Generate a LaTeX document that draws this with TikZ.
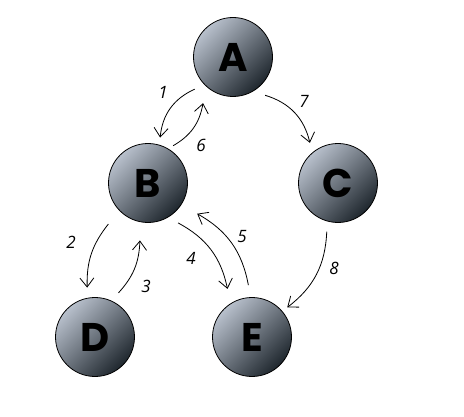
\documentclass[tikz,border=0pt]{standalone}
\usepackage{fontspec}
\setmainfont{Open Sans}
\newfontfamily\letterfont{Poppins}
\usetikzlibrary{arrows.meta,calc}
\definecolor{ballLight}{HTML}{B8C0CC}
\definecolor{ballDark}{HTML}{1F272E}
\tikzset{
  ball/.style={circle, draw=black, line width=0.8pt, minimum size=79pt, inner sep=0pt,
    left color=ballLight, right color=ballDark, shading angle=45,
    font=\letterfont\bfseries\fontsize{40}{40}\selectfont},
  edge/.style={line width=0.8pt, -{Straight Barb[length=9pt,width=14pt,line width=0.8pt]}},
  lbl/.style={font=\fontsize{17}{17}\selectfont\itshape, inner sep=0pt}
}
\begin{document}
\begin{tikzpicture}[x=1pt,y=1pt]
\useasboundingbox (0,0) rectangle (464,416);
\node[ball] (A) at (233,359) {A};
\node[ball] (B) at (148,233) {B};
\node[ball] (C) at (338,233) {C};
\node[ball] (D) at (95,79) {D};
\node[ball] (E) at (252,79) {E};
% edges
\draw[edge] ($(A)+(220:50)$) to[bend right=30] ($(B)+(75:47)$);
\draw[edge] ($(B)+(56:45)$) to[bend right=25] ($(A)+(237:55)$);
\draw[edge] ($(A)+(310:50)$) to[bend left=30] ($(C)+(125:49)$);
\draw[edge] ($(B)+(226:57)$) to[bend right=20] ($(D)+(99:50)$);
\draw[edge] ($(D)+(62:50)$) to[bend right=20] ($(B)+(262:58)$);
\draw[edge] ($(B)+(307:50)$) to[bend left=25] ($(E)+(117:54)$);
\draw[edge] ($(E)+(94:52)$) to[bend right=25] ($(B)+(328:58)$);
\draw[edge] ($(C)+(257:50)$) to[bend left=25] ($(E)+(40:46)$);
% labels
\node[lbl] (l1) at (163,324) {1};
\node[lbl] (l6) at (201,271) {6};
\node[lbl] (l7) at (304,315) {7};
\node[lbl] (l2) at (71,174) {2};
\node[lbl] (l3) at (146,130) {3};
\node[lbl] (l4) at (191,158) {4};
\node[lbl] (l5) at (242,179) {5};
\node[lbl] (l8) at (334,148) {8};
\end{tikzpicture}
\end{document}
